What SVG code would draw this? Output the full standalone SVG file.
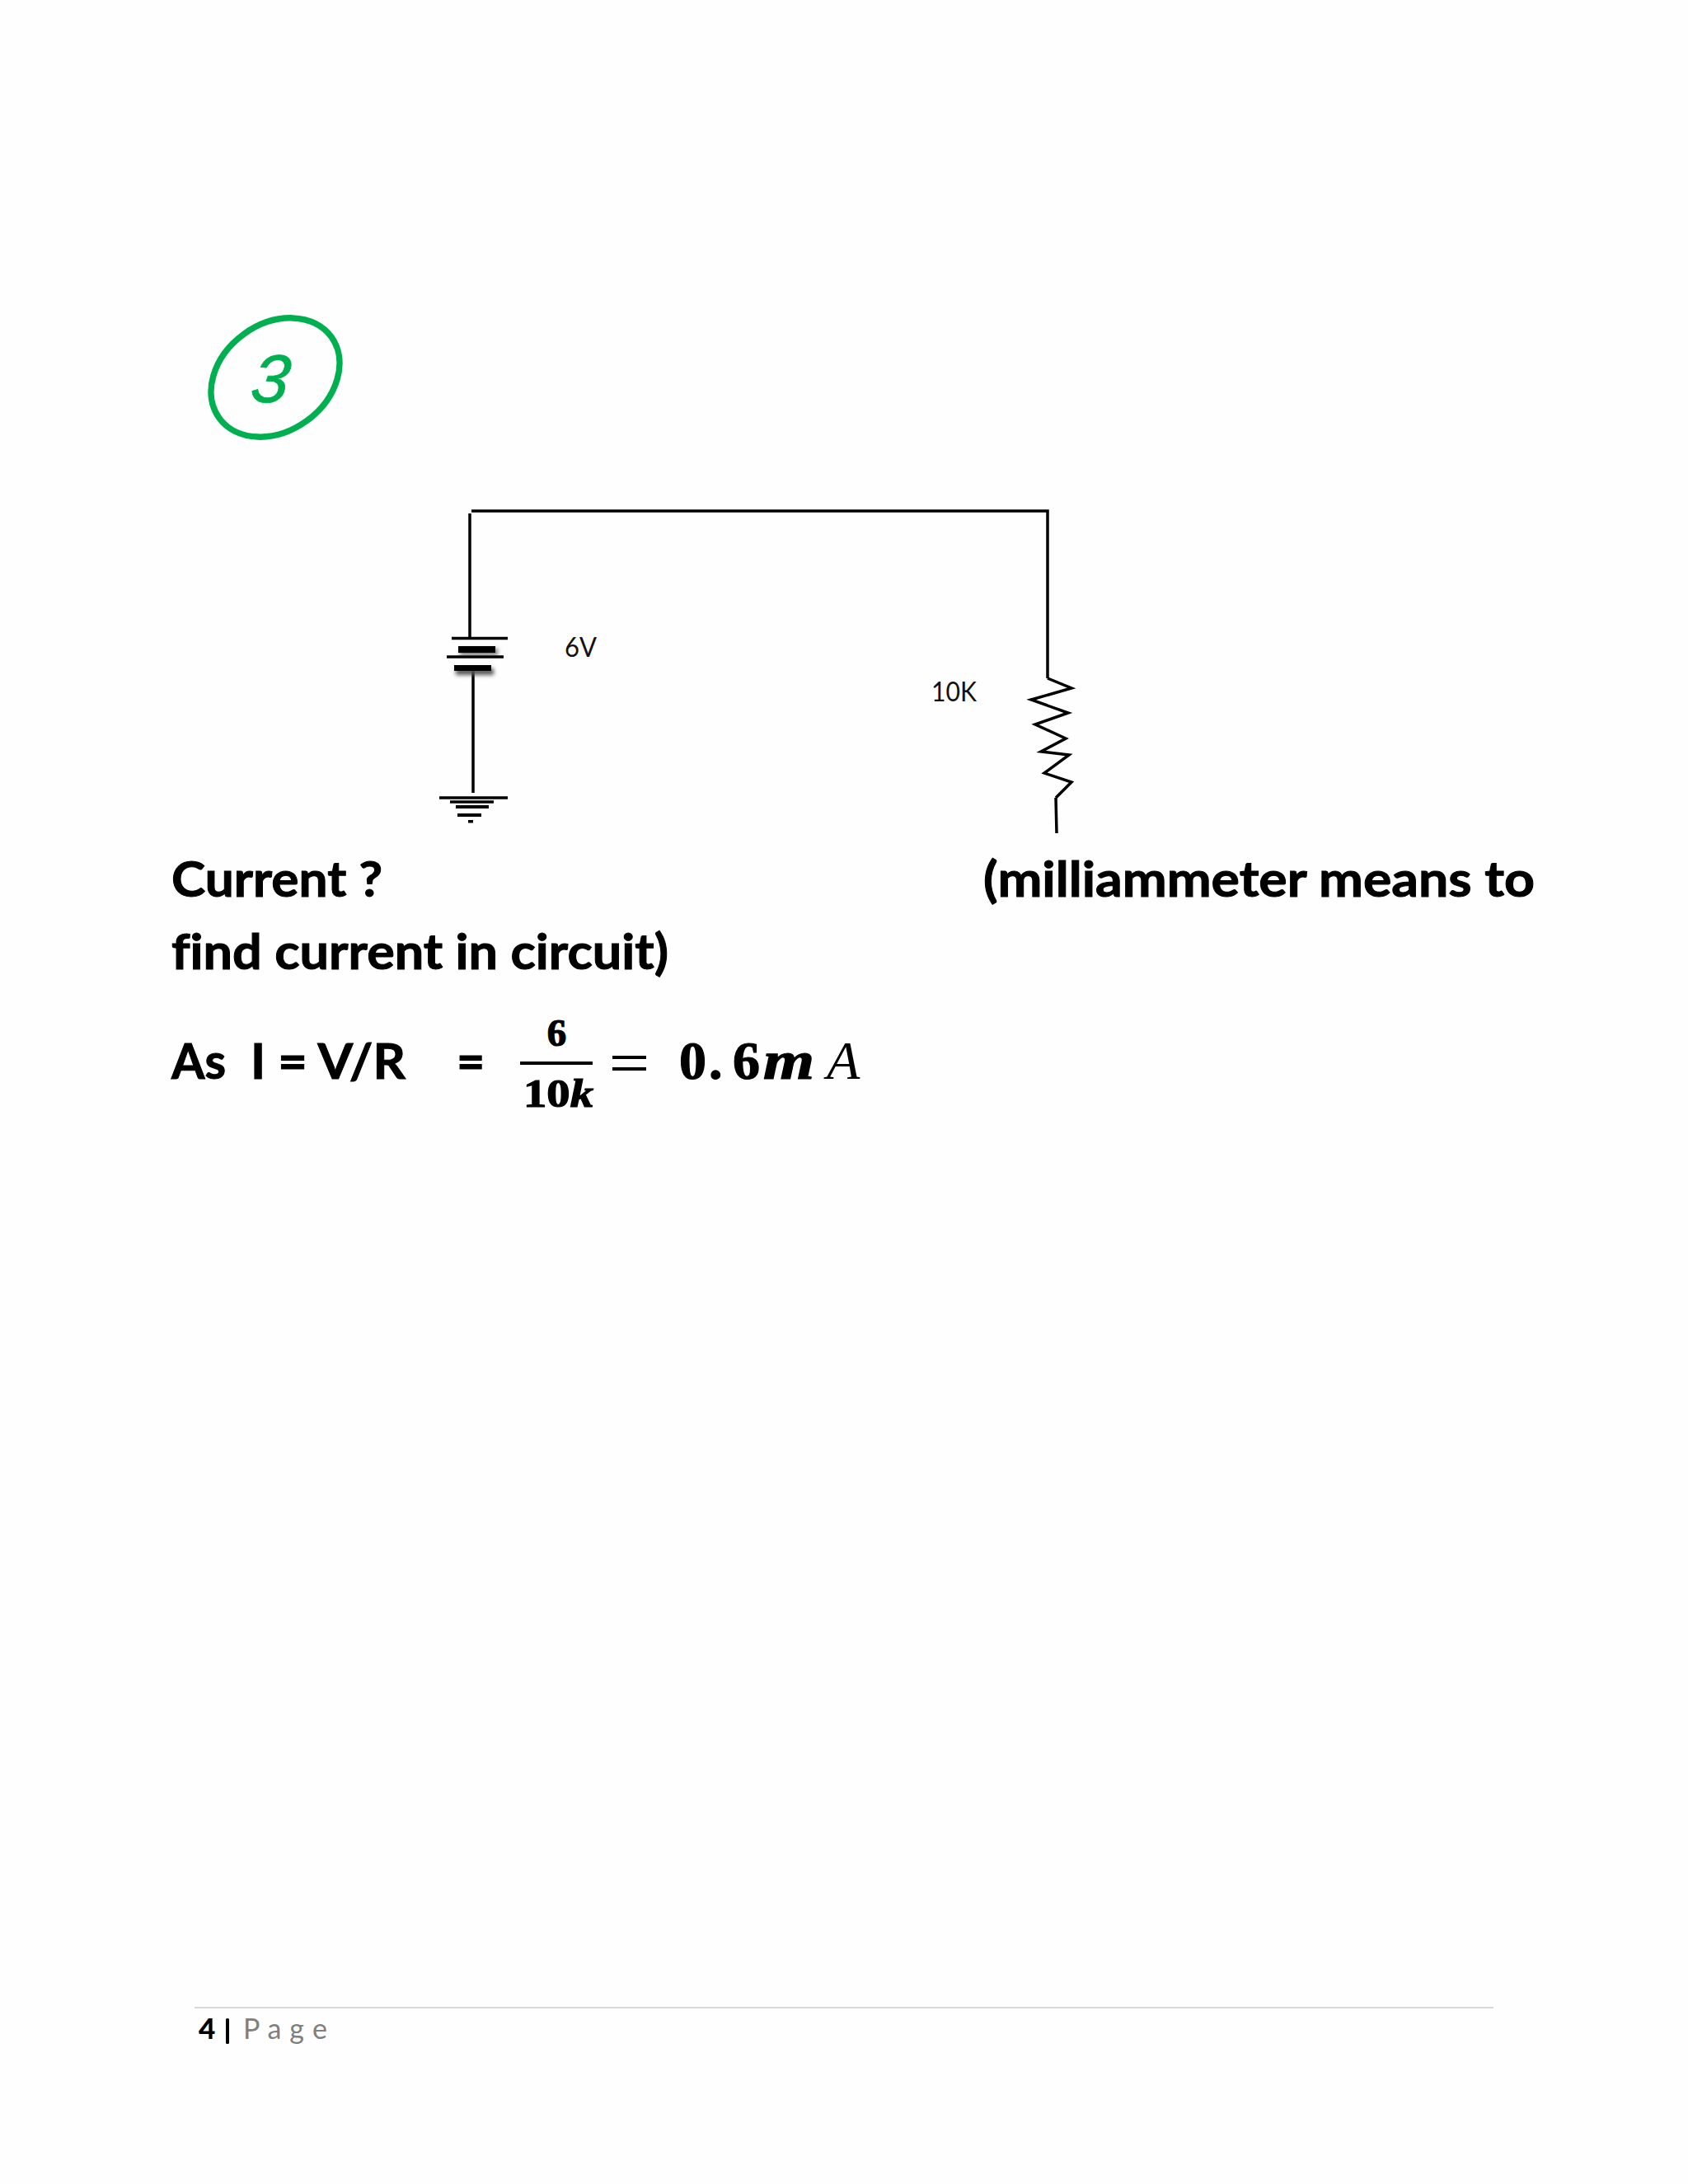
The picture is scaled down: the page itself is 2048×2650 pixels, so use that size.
<svg xmlns="http://www.w3.org/2000/svg" width="2048" height="2650" viewBox="0 0 2048 2650">
<style>
.w{fill:none;stroke:#000;stroke-width:3.5;stroke-linejoin:miter}
.b{stroke:#000;stroke-width:3.5;fill:none}
.t{font-family:Lato,"Open Sans",sans-serif;font-weight:700;font-size:59px;fill:#000;stroke:#000;stroke-width:1;font-variant-ligatures:none}
.l{font-family:Lato,"Open Sans",sans-serif;font-size:33px;fill:#111}
.m{font-family:"Liberation Serif",serif;fill:#000}
.h{stroke:#000;stroke-width:1.2;font-weight:700}
</style>
<defs><filter id="s" x="-20%" y="-100%" width="140%" height="300%"><feGaussianBlur stdDeviation="2.5"/></filter></defs>
<rect width="2048" height="2650" fill="#fefefe"/>
<g id="badge">
<ellipse cx="334" cy="458" rx="84" ry="65" transform="rotate(-36 334 458)" fill="none" stroke="#00b050" stroke-width="7.500"/>
<text transform="translate(302 488) skewX(-8)" font-family="'Liberation Sans',sans-serif" font-style="italic" font-size="82" fill="#00b050" stroke="#00b050" stroke-width="0.8">3</text>
</g>
<g id="connectors">
<path class="w" d="M572 620H1271V823"/>
<path class="w" d="M570 623V774"/>
<path class="w" d="M574 810V962"/>
<path class="w" d="M1281 968L1282 1011"/>
</g>
<g id="battery">
<rect x="558" y="787" width="46" height="8" fill="#777" filter="url(#s)"/>
<rect x="553" y="811" width="46" height="8" fill="#555" filter="url(#s)"/>
<path class="b" d="M548 774.500H616M542 797H611"/>
<rect x="556" y="784" width="45" height="8"/>
<rect x="551" y="807" width="45" height="7"/>
</g>
<g id="ground">
<path class="b" d="M533 968H616M546 973H599"/>
<rect x="553" y="977" width="40" height="4"/>
<rect x="555" y="987" width="29" height="4"/>
<rect x="568" y="995" width="6" height="3.500"/>
</g>
<g id="resistor">
<path class="w" d="M1271 823L1300 835L1251 849L1296 865L1256 879L1293 896L1263 912L1297 916L1267 938L1300 949L1281 968"/>
</g>
<g id="labels">
<text class="l" x="685" y="797" textLength="39" lengthAdjust="spacingAndGlyphs">6V</text>
<text class="l" x="1130" y="851" textLength="55" lengthAdjust="spacingAndGlyphs">10K</text>
</g>
<g id="text">
<text class="t" x="208" y="1088" textLength="256" lengthAdjust="spacingAndGlyphs">Current ?</text>
<text class="t" x="1193" y="1088" textLength="669" lengthAdjust="spacingAndGlyphs">(milliammeter means to</text>
<text class="t" x="208" y="1176" textLength="603" lengthAdjust="spacingAndGlyphs">find current in circuit)</text>
<text class="t" x="208" y="1309" textLength="66" lengthAdjust="spacingAndGlyphs">As</text>
<text class="t" x="304" y="1309" textLength="188" lengthAdjust="spacingAndGlyphs">I = V/R</text>
<text class="t" x="554" y="1309">=</text>
</g>
<g id="equation">
<text class="m h" x="675.500" y="1269" font-size="47" text-anchor="middle">6</text>
<rect x="631" y="1288" width="88" height="4"/>
<text class="m h" x="635" y="1343" font-size="48" textLength="85" lengthAdjust="spacingAndGlyphs">10<tspan font-style="italic">k</tspan></text>
<rect x="743" y="1281" width="41" height="4"/>
<rect x="743" y="1295" width="41" height="4"/>
<text class="m h" x="824" y="1309" font-size="66">0</text>
<text class="m h" x="860" y="1309" font-size="66">.</text>
<text class="m h" x="889" y="1309" font-size="66">6</text>
<text class="m h" x="926" y="1309" font-size="66" font-style="italic" textLength="62" lengthAdjust="spacingAndGlyphs">m</text>
<text class="m" x="1003" y="1309" font-size="66" font-style="italic">A</text>
</g>
<g id="footer">
<rect x="236" y="2435" width="1576" height="2" fill="#d9d9d9"/>
<text x="241" y="2474" font-family="Lato,sans-serif" font-weight="900" font-size="35">4</text>
<rect x="274" y="2449" width="4" height="31" rx="1.500"/>
<text x="295" y="2474" font-family="Lato,sans-serif" font-size="34" fill="#7f7f7f" textLength="102">P a g e</text>
</g>
</svg>
